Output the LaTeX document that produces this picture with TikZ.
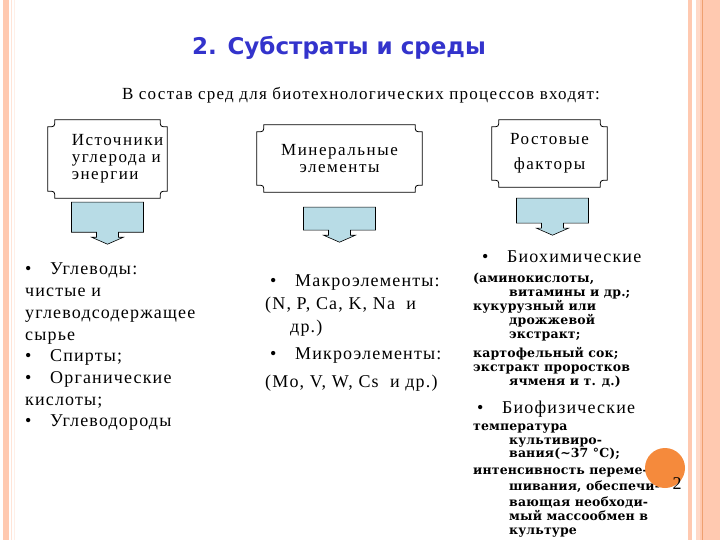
\documentclass[tikz,border=0pt]{standalone}
\usepackage{fontspec}
\setmainfont{Liberation Serif}
\newfontfamily\titlefont{DejaVu Sans}
\newfontfamily\bodyfont[LetterSpace=6.5]{Liberation Serif}
\newfontfamily\boxfont[LetterSpace=9]{Liberation Serif}
\newfontfamily\introfont[LetterSpace=7.5]{Liberation Serif}
\newfontfamily\smallfont[LetterSpace=1]{DejaVu Serif}
\usepackage{tikz}
\usetikzlibrary{positioning,calc}
\definecolor{stripe}{HTML}{FFC9B0}
\definecolor{stripeD}{HTML}{EFA070}
\definecolor{titleblue}{HTML}{3333CC}
\definecolor{arrowfill}{HTML}{B8DCE6}
\definecolor{dot}{HTML}{F58A3C}

\tikzset{
  plaque/.style={inner sep=0pt, font=\boxfont\fontsize{17}{17}\selectfont},
  plaqueline/.style={draw=black, line width=0.8pt},
  arrowbody/.style={fill=arrowfill, draw=black, line width=0.6pt, line join=miter},
  body/.style={inner sep=0pt, anchor=north west, align=left, font=\bodyfont\fontsize{18}{21.7}\selectfont},
  small/.style={inner sep=0pt, anchor=north west, align=left, font=\smallfont\bfseries\fontsize{12.5}{14}\selectfont},
}
% frame with concave corners round a node
\newcommand\plaqueframe[1]{%
  \draw[plaqueline] ([xshift=7pt]#1.north west) -- ([xshift=-7pt]#1.north east)
    .. controls ([xshift=-7pt,yshift=-7pt]#1.north east) .. ([yshift=-7pt]#1.north east)
    -- ([yshift=7pt]#1.south east)
    .. controls ([xshift=-7pt,yshift=7pt]#1.south east) .. ([xshift=-7pt]#1.south east)
    -- ([xshift=7pt]#1.south west)
    .. controls ([xshift=7pt,yshift=7pt]#1.south west) .. ([yshift=7pt]#1.south west)
    -- ([yshift=-7pt]#1.north west)
    .. controls ([xshift=7pt,yshift=-7pt]#1.north west) .. cycle;}
% wide block arrow under a node: #1 coordinate, #2 shaft length
\newcommand\blockarrow[2]{%
  \filldraw[arrowbody] ([xshift=-36pt]#1) -- ([xshift=36pt]#1)
    -- ([xshift=36pt,yshift=-#2]#1) -- ([xshift=11pt,yshift=-#2]#1)
    -- ([xshift=11pt,yshift=-#2-5pt]#1) -- ([xshift=16pt,yshift=-#2-5pt]#1)
    -- ([yshift=-#2-12pt]#1)
    -- ([xshift=-16pt,yshift=-#2-5pt]#1) -- ([xshift=-11pt,yshift=-#2-5pt]#1)
    -- ([xshift=-11pt,yshift=-#2]#1) -- ([xshift=-36pt,yshift=-#2]#1) -- cycle;}
\newcommand\bul{\makebox[25pt][l]{•}}

\begin{document}
\begin{tikzpicture}[x=1pt, y=-1pt]
\useasboundingbox (0,0) rectangle (720,540);
\fill[white] (0,0) rectangle (720,540);
% side stripes
\fill[stripe] (3,0) rectangle (9,540);
\draw[stripe!50, line width=1pt] (11,0) -- (11,540);
\draw[stripe!30, line width=0.8pt] (14,0) -- (14,540);
\fill[stripe] (688,0) rectangle (720,540);
\fill[white] (692,0) rectangle (696,540);
\fill[stripe!70] (696,0) rectangle (700,540);
\draw[stripeD, line width=1pt] (702,0) -- (702,540);

\node[font=\titlefont\bfseries\fontsize{23}{27}\selectfont, text=titleblue] (title) at (339,48) {2. Субстраты и среды};
\node[font=\introfont\fontsize{17}{19}\selectfont] (intro) at (361,95) {В состав сред для биотехнологических процессов входят:};

\node[plaque, minimum width=119pt, minimum height=78pt] (carbon) at (107.5,159)
  {\begin{tabular}{@{\hspace{20pt}}l@{}}Источники\\углерода и\\энергии\end{tabular}};
\node[plaque, minimum width=165pt, minimum height=67pt, align=center] (mineral) at (339.5,158.5)
  {Минеральные\\элементы};
\node[plaque, minimum width=115pt, minimum height=67pt, align=center,
  font=\boxfont\fontsize{17}{25}\selectfont] (growth) at (549.5,153.5) {Ростовые\\факторы};
\plaqueframe{carbon}
\plaqueframe{mineral}
\plaqueframe{growth}

\coordinate (a1) at ([yshift=-4pt]carbon.south);
\coordinate (a2) at ([yshift=-15pt]mineral.south);
\coordinate (a3) at ([xshift=3pt,yshift=-11pt]growth.south);
\blockarrow{a1}{30pt}
\blockarrow{a2}{23pt}
\blockarrow{a3}{25pt}

\node[body] (carbonlist) at (25,263) {\bul Углеводы:\\чистые и\\углеводсодержащее\\сырье\\\bul Спирты;\\\bul Органические\\кислоты;\\\bul Углеводороды};

\node[body, font=\bodyfont\fontsize{18}{23}\selectfont] (macro) at (265,275)
  {\hspace*{5pt}\bul Макроэлементы:\\(N, P, Ca, K, Na~ и\\\hspace*{25pt}др.)};
\node[body] (micro) at (265,348)
  {\hspace*{5pt}\bul Микроэлементы:\\[6pt](Mo, V, W, Cs~ и др.)};

\node[body] (biochem) at (482,251) {\bul Биохимические};
\node[small] (biochemlist) at (473,273)
  {(аминокислоты,\\\hspace*{36pt}витамины и др.;\\кукурузный или\\\hspace*{36pt}дрожжевой\\\hspace*{36pt}экстракт;\\[5pt]картофельный сок;\\экстракт проростков\\\hspace*{36pt}ячменя и т. д.)};

\node[body] (biophys) at (477,401) {\bul Биофизические};
\node[small] (biophyslist) at (473,424)
  {температура\\\hspace*{36pt}культивиро-\\[-1pt]\hspace*{36pt}вания(\textasciitilde37 °C);\\[3pt]интенсивность переме-\\[2pt]\hspace*{36pt}шивания, обеспечи-\\[2pt]\hspace*{36pt}вающая необходи-\\\hspace*{36pt}мый массообмен в\\\hspace*{36pt}культуре};

\fill[dot] (665,468) circle (20pt);
\node[font=\fontsize{18}{20}\selectfont, anchor=base] (pagenum) at (677,489) {2};
\end{tikzpicture}
\end{document}
